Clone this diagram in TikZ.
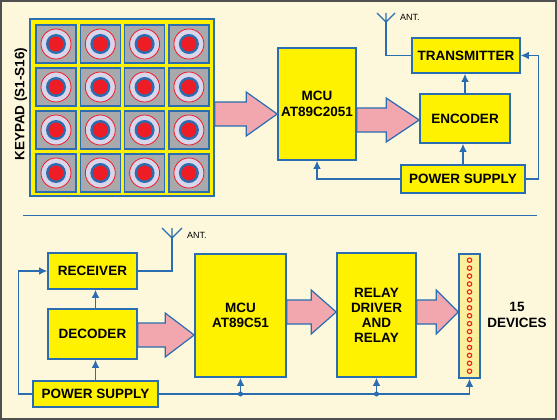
\documentclass[tikz,border=0pt]{standalone}
\usepackage{fontspec}
\setmainfont{Liberation Sans}
\usetikzlibrary{calc,arrows.meta}

\definecolor{cream}{HTML}{FDF8DC}
\definecolor{boxyellow}{HTML}{FFF200}
\definecolor{lineblue}{HTML}{2A6DB0}
\definecolor{arrowpink}{HTML}{F2A7AF}
\definecolor{keygray}{HTML}{A8A9AD}
\definecolor{ringlav}{HTML}{D9D5EA}
\definecolor{framegray}{HTML}{505050}
\definecolor{stripyellow}{HTML}{FCF09A}
\definecolor{dotred}{HTML}{EE1C25}

\tikzset{
  block/.style={draw=lineblue, line width=1.6pt, fill=boxyellow, inner sep=0pt, align=center,
    font=\bfseries\fontsize{13.5}{15.5}\selectfont},
  keybox/.style={draw=lineblue, line width=1.4pt, fill=keygray, inner sep=0pt,
    minimum width=40pt, minimum height=38pt},
  fatarrow/.style={draw=lineblue, line width=1.2pt, fill=arrowpink, line join=miter},
  wire/.style={lineblue, line width=1.1pt},
  feed/.style={wire, -{Latex[length=8pt,width=7.5pt]}},
  antlabel/.style={anchor=west, inner sep=0pt, font=\fontsize{9}{10}\selectfont},
  bigtext/.style={align=center, inner sep=0pt, font=\bfseries\fontsize{13.5}{15.5}\selectfont},
}

% fat pink arrow: #1 from node, #2 to node, #3 height of its axis, #4 length of the head
\newcommand\bigarrow[4]{%
  \draw[fatarrow] ($(#1.east |- 0,#3)+(0,-12)$) -- ($(#2.west |- 0,#3)+(-#4,-12)$) -- ++(0,-10)
    -- (#2.west |- 0,#3) -- ($(#2.west |- 0,#3)+(-#4,22)$) -- ++(0,-10)
    -- ($(#1.east |- 0,#3)+(0,12)$) -- cycle;}

\begin{document}
\begin{tikzpicture}[x=1pt,y=-1pt] %---- remote switch, transmitter and receiver
\useasboundingbox (0,0) rectangle (557,420);
\draw[framegray, fill=cream, line width=2pt] (1,1) rectangle (556,419);

% ---- transmitter side
\node[block, fill=boxyellow, minimum width=184pt, minimum height=177pt] (keypad) at (122,107.5) {};
\foreach \c in {0,...,3}
  \foreach \r in {0,...,3} {
    \node[keybox] (key\r\c) at ({56+44.3*\c},{44+43*\r}) {};
    \draw[dotred, line width=0.8pt, fill=ringlav] (key\r\c) circle (15);
    \fill[lineblue] (key\r\c) circle (10);
    \fill[dotred] (key\r\c) circle (7.5);
  }
\node[bigtext, rotate=90] (kplabel) at (21,104) {KEYPAD (S1-S16)};

\node[block, minimum width=78pt, minimum height=112pt] (mcu1) at (317,104) {MCU\\AT89C2051};
\node[block, minimum width=90pt, minimum height=49pt] (enc) at (465,118.5) {ENCODER};
\node[block, minimum width=108pt, minimum height=35pt] (tx) at (466,55.5) {TRANSMITTER};
\node[block, minimum width=124pt, minimum height=28pt] (ps1) at (463,179) {POWER SUPPLY};

\bigarrow{keypad}{mcu1}{114}{31}
\bigarrow{mcu1}{enc}{120}{33}

\draw[feed] (ps1.north) -- (ps1.north |- enc.south);
\draw[feed] (enc.north) -- (enc.north |- tx.south);
\draw[feed] (ps1.west) -| (mcu1.south);
\draw[feed] (ps1.east) -- ++(13,0) |- (tx.east);
\coordinate (ant1) at (386,22);
\draw[wire] (tx.west) -| (ant1);
\draw[wire] (ant1) -- ++(-9,-9) (ant1) -- ++(9,-9) (ant1) -- ++(0,-9);
\node[antlabel] (antlab1) at (400,17) {ANT.};

\draw[lineblue, line width=1pt] (23,215) -- (537,215); % ---- divider

% ---- receiver side
\node[block, minimum width=89pt, minimum height=36pt] (rx) at (92.5,271) {RECEIVER};
\node[block, minimum width=89pt, minimum height=50pt] (dec) at (92.5,334) {DECODER};
\node[block, minimum width=125pt, minimum height=26pt] (ps2) at (95.5,394) {POWER SUPPLY};
\node[block, minimum width=91pt, minimum height=123pt] (mcu2) at (240.5,315.5) {MCU\\AT89C51};
\node[block, minimum width=79pt, minimum height=124pt, font=\bfseries\fontsize{13.5}{15}\selectfont]
  (relay) at (376.5,315) {RELAY\\DRIVER\\AND\\RELAY};
\node[block, fill=stripyellow, minimum width=21pt, minimum height=124pt] (dev) at (469.5,316) {};
\foreach \k in {0,...,14}
  \draw[dotred, line width=1.1pt] ($(dev.north)+(0,7+7.93*\k)$) circle (2.2);
\node[bigtext] (devlabel) at (517,315) {15\\DEVICES};

\bigarrow{dec}{mcu2}{335}{29}
\bigarrow{mcu2}{relay}{312}{25}
\bigarrow{relay}{dev}{312}{22}

\draw[feed] (ps2.north) -- (ps2.north |- dec.south);
\draw[feed] (ps2.north |- dec.north) -- (ps2.north |- rx.south);
\draw[feed] (ps2.west) -- ++(-14,0) |- (rx.west);
\coordinate (ant2) at (172,238);
\draw[wire] (rx.east) -| (ant2);
\draw[wire] (ant2) -- ++(-10,-10) (ant2) -- ++(10,-10) (ant2) -- ++(0,-10);
\node[antlabel] (antlab2) at (187,235) {ANT.};

\draw[feed] (ps2.east) -| (dev.south);
\draw[feed] (mcu2.south |- ps2.east) -- (mcu2.south);
\draw[feed] (relay.south |- ps2.east) -- (relay.south);
\fill[lineblue] (mcu2.south |- ps2.east) circle (2.5);
\fill[lineblue] (relay.south |- ps2.east) circle (2.5);
\end{tikzpicture}
\end{document}
